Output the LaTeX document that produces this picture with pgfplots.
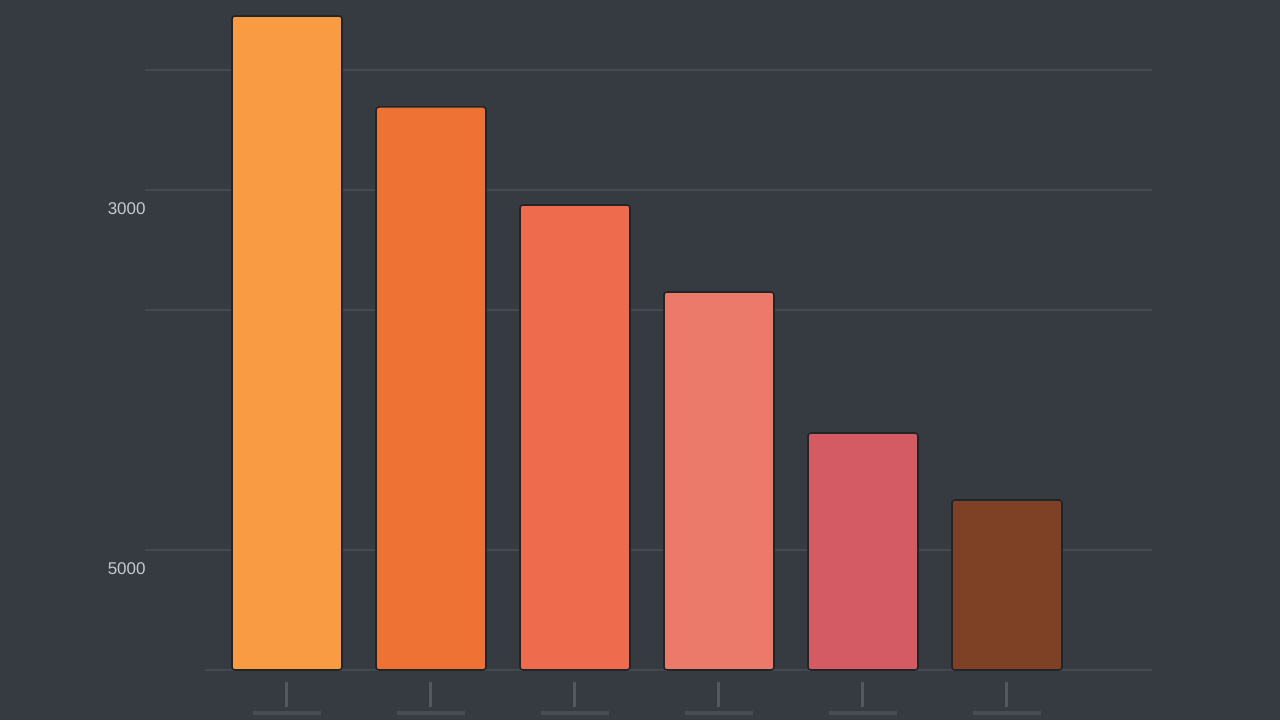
\documentclass[border=0pt]{standalone}
\usepackage{pgfplots}
\pgfplotsset{compat=1.18}
\usepackage{fontspec}
\setmainfont{Liberation Sans}
\definecolor{bg}{HTML}{363A41}
\definecolor{gridc}{HTML}{454A51}
\definecolor{labc}{HTML}{C6C9CC}
\definecolor{tickv}{HTML}{535960}
\definecolor{tickh}{HTML}{484D54}
\definecolor{edgec}{HTML}{222528}
\definecolor{cA}{HTML}{F89B42}
\definecolor{cB}{HTML}{EE7234}
\definecolor{cC}{HTML}{EE6B4E}
\definecolor{cD}{HTML}{EC7A6A}
\definecolor{cE}{HTML}{D45B63}
\definecolor{cF}{HTML}{7F4126}
\begin{document}
\begin{tikzpicture}
\fill[bg] (0pt,0pt) rectangle (640pt,360pt);
\useasboundingbox (0pt,0pt) rectangle (640pt,360pt);
\begin{axis}[
  at={(72.5pt,25pt)}, anchor=south west,
  scale only axis, width=503.5pt, height=335pt,
  xmin=-0.986, xmax=6.007, ymin=0, ymax=5583,
  axis line style={draw=none},
  major tick length=0pt,
  ymajorgrids,
  major grid style={gridc, line width=0.75pt},
  ytick={1000,3000,4000,5000},
  yticklabels={5000,,3000,},
  yticklabel style={anchor=east, inner sep=0pt, xshift=0.5pt, yshift=-9.25pt,
    font=\fontsize{8.5}{10}\selectfont, text=labc},
  xtick={0,1,2,3,4,5},
  xticklabel={\tikz{\fill[tickv] (-0.75pt,0pt) rectangle (0.75pt,-12.5pt);
     \fill[tickh] (-17pt,-14.5pt) rectangle (17pt,-16.5pt);}},
  xticklabel style={anchor=north, inner sep=0pt, yshift=-6pt},
  ybar, bar width=55pt, bar shift=0pt,
  every axis plot/.append style={draw=edgec, line width=0.8pt, rounded corners=1.5pt},
]
\draw[gridc, line width=0.75pt] (axis cs:-0.569,0) -- (axis cs:6.007,0);
\addplot[fill=cA] coordinates {(0,5450)};
\addplot[fill=cB] coordinates {(1,4692)};
\addplot[fill=cC] coordinates {(2,3875)};
\addplot[fill=cD] coordinates {(3,3150)};
\addplot[fill=cE] coordinates {(4,1975)};
\addplot[fill=cF] coordinates {(5,1417)};
\end{axis}
\end{tikzpicture}
\end{document}
